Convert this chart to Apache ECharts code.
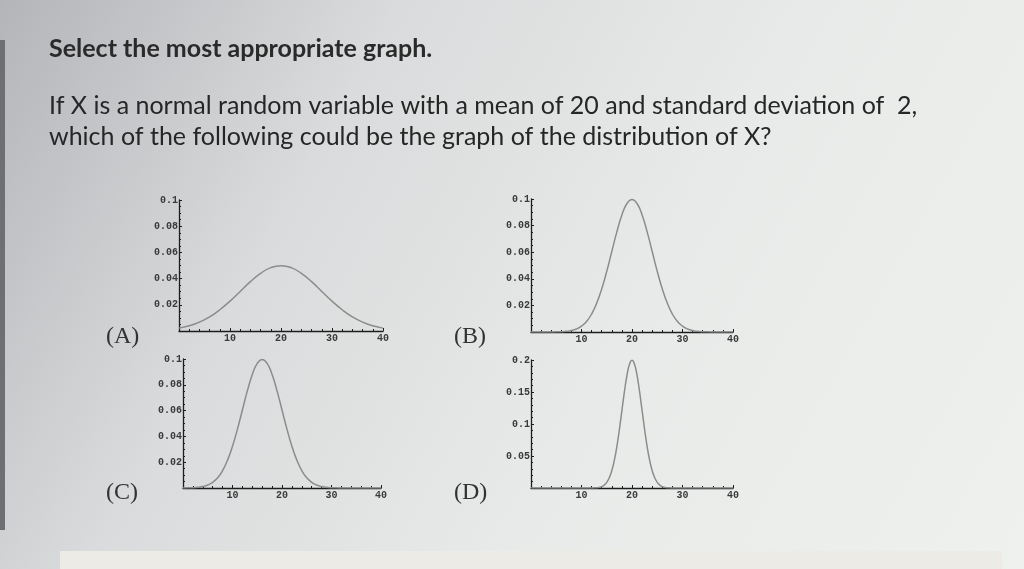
<!DOCTYPE html>
<html>
<head>
<meta charset="utf-8">
<script src="https://cdn.jsdelivr.net/npm/echarts@6/dist/echarts.min.js"></script>
<style>
html,body{margin:0;padding:0;width:1024px;height:569px;overflow:hidden;background:#e4e6e6;}
#c{width:1024px;height:569px;}
</style>
</head>
<body>
<div id="c"></div>
<script>
// ---- data ----
var titleText = "Select the most appropriate graph.";
var line1Text = "If X is a normal random variable with a mean of 20 and standard deviation of  2,";
var line2Text = "which of the following could be the graph of the distribution of X?";
var panelLabels = ["(A)", "(B)", "(C)", "(D)"];

var xTicks = [10, 20, 30, 40];
var yTicksA = [0.02, 0.04, 0.06, 0.08, 0.1];
var yTicksD = [0.05, 0.1, 0.15, 0.2];

var xsA = [0,2,4,6,8,10,12,14,16,18,20,22,24,26,28,30,32,34,36,38,40];
var ysA = [0.0022,0.0040,0.0068,0.0108,0.0162,0.0228,0.0302,0.0377,0.0440,0.0484,0.0499,
           0.0484,0.0440,0.0377,0.0302,0.0228,0.0162,0.0108,0.0068,0.0040,0.0022];

var xsB = [0,1,2,3,4,5,6,7,8,9,10,11,12,13,14,15,16,17,18,19,20,21,22,23,24,25,26,27,28,29,30,31,32,33,34,35,36,37,38,39,40];
var ysB = [0,0,0,0,0,0.0001,0.0002,0.0005,0.0011,0.0023,0.0044,0.0079,0.0135,0.0216,0.0324,0.0456,
           0.0605,0.0753,0.0880,0.0966,0.0997,0.0966,0.0880,0.0753,0.0605,0.0456,0.0324,0.0216,
           0.0135,0.0079,0.0044,0.0023,0.0011,0.0005,0.0002,0.0001,0,0,0,0,0];

var xsC = [0,1,2,3,4,5,6,7,8,9,10,11,12,13,14,15,16,17,18,19,20,21,22,23,24,25,26,27,28,29,30,31,32,33,34,35,36,37,38,39,40];
var ysC = [0,0.0001,0.0002,0.0005,0.0011,0.0023,0.0044,0.0079,0.0135,0.0216,0.0324,0.0456,
           0.0605,0.0753,0.0880,0.0966,0.0997,0.0966,0.0880,0.0753,0.0605,0.0456,0.0324,0.0216,
           0.0135,0.0079,0.0044,0.0023,0.0011,0.0005,0.0002,0.0001,0,0,0,0,0,0,0,0,0];

var xsD = [0,12,12.5,13,13.5,14,14.5,15,15.5,16,16.5,17,17.5,18,18.5,19,19.5,20,
           20.5,21,21.5,22,22.5,23,23.5,24,24.5,25,25.5,26,26.5,27,27.5,28,40];
var ysD = [0,0.0001,0.0002,0.0004,0.0010,0.0022,0.0045,0.0088,0.0159,0.0270,0.0431,0.0648,0.0913,
           0.1210,0.1506,0.1760,0.1933,0.1995,0.1933,0.1760,0.1506,0.1210,0.0913,0.0648,0.0431,
           0.0270,0.0159,0.0088,0.0045,0.0022,0.0010,0.0004,0.0002,0.0001,0];

// ---- build chart ----
function pairs(xs, ys){ var out=[]; for(var i=0;i<xs.length;i++){ out.push([xs[i], ys[i]]); } return out; }

var grids = [
  {left:179, top:200, width:204, height:131},
  {left:531, top:199, width:202, height:133},
  {left:183, top:359, width:198, height:129},
  {left:531, top:360, width:202, height:128}
];
var yMax = [0.1, 0.1, 0.1, 0.2];
var yInt = [yTicksA[1]-yTicksA[0], yTicksA[1]-yTicksA[0], yTicksA[1]-yTicksA[0], yTicksD[1]-yTicksD[0]];
var ySplit = [4, 4, 4, 5];
var seriesData = [pairs(xsA, ysA), pairs(xsB, ysB), pairs(xsC, ysC), pairs(xsD, ysD)];

var tickFont = {fontFamily:'Liberation Mono', fontSize:10, color:'#3a3a3a', fontWeight:'bold'};
var axisCol = '#1e1e1e';

var xAxes = [], yAxes = [], series = [];
for (var i=0;i<4;i++){
  xAxes.push({
    type:'value', gridIndex:i, min:0, max:xTicks[xTicks.length-1], interval:xTicks[1]-xTicks[0],
    axisLine:{onZero:false, lineStyle:{color:axisCol, width:1.3}},
    axisTick:{show:true, inside:true, length:3, lineStyle:{color:axisCol}},
    minorTick:{show:true, splitNumber:5, length:2, lineStyle:{color:axisCol}},
    splitLine:{show:false},
    axisLabel:Object.assign({margin:2, formatter:function(v){ return xTicks.indexOf(v)>=0 ? String(v) : ''; }}, tickFont)
  });
  (function(idx){
    yAxes.push({
      type:'value', gridIndex:idx, min:0, max:yMax[idx], interval:yInt[idx],
      axisLine:{show:true, onZero:false, lineStyle:{color:axisCol, width:1.3}},
      axisTick:{show:true, inside:true, length:3, lineStyle:{color:axisCol}},
      minorTick:{show:true, splitNumber:ySplit[idx], length:2, lineStyle:{color:axisCol}},
      splitLine:{show:false},
      axisLabel:Object.assign({margin:1, formatter:function(v){ var r=+v.toFixed(3); return r===0 ? '' : String(r); }}, tickFont)
    });
  })(i);
  series.push({
    type:'line', xAxisIndex:i, yAxisIndex:i, data:seriesData[i],
    showSymbol:false, smooth:0.5, silent:true,
    lineStyle:{color:'#8c8c8c', width:1.5}
  });
}

var labelPos = [[106,337],[454,337],[106,493],[454,493]];
var graphics = [
  {type:'rect', z:-10, silent:true, shape:{x:0,y:0,width:1024,height:569},
   style:{fill:new echarts.graphic.LinearGradient(0,0,1,1,[
     {offset:0,color:'#b4b5b9'},{offset:0.3,color:'#d9dbdc'},{offset:0.6,color:'#e8eae9'},{offset:1,color:'#eff1ee'}])}},
  {type:'rect', z:-9, silent:true, shape:{x:0,y:40,width:5,height:490}, style:{fill:'#6e6f72'}},
  {type:'rect', z:-9, silent:true, shape:{x:60,y:551,width:942,height:18}, style:{fill:'#ecebe6'}},
  {type:'text', left:49, top:36, style:{text:titleText, fontFamily:'Lato', fontWeight:'bold', fontSize:25, fill:'#2a2a2a'}},
  {type:'text', left:49, top:93, style:{text:line1Text, fontFamily:'Lato', fontSize:25, fill:'#262626'}},
  {type:'text', left:49, top:124, style:{text:line2Text, fontFamily:'Lato', fontSize:25, fill:'#262626'}}
];
for (var k=0;k<4;k++){
  graphics.push({type:'text', x:labelPos[k][0], y:labelPos[k][1],
    style:{text:panelLabels[k], fontFamily:'Liberation Serif', fontSize:24, fill:'#333', verticalAlign:'middle', align:'left'}});
}

var chart = echarts.init(document.getElementById('c'), null, {renderer:'canvas'});
chart.setOption({
  animation:false,
  backgroundColor:'transparent',
  grid:grids,
  xAxis:xAxes,
  yAxis:yAxes,
  series:series,
  graphic:graphics
});
</script>
</body>
</html>
